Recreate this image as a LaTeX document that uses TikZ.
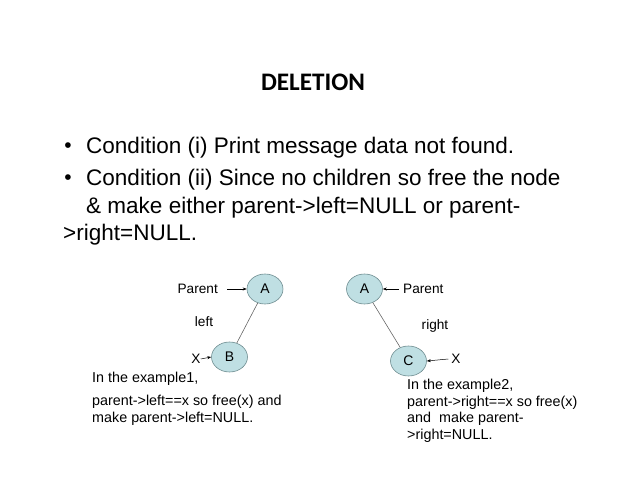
\documentclass[tikz,border=0pt]{standalone}
\usepackage{fontspec}
\setmainfont{Liberation Sans}
\newfontfamily\titlefont{Carlito}
\usepackage{xcolor}
\usetikzlibrary{arrows.meta,shapes.geometric}
\definecolor{nodefill}{HTML}{BFDFE3}
\definecolor{nodeline}{HTML}{6E8C90}

\begin{document}
\begin{tikzpicture}[x=1bp, y=-1bp, text=black,
	tree/.style={ellipse, draw=nodeline, fill=nodefill, line width=0.6pt, minimum width=36bp, minimum height=30bp, inner sep=0pt, font=\fontsize{14}{16}\selectfont},
	lbl/.style={font=\fontsize{13.7}{16}\selectfont, inner sep=0pt},
	note/.style={font=\fontsize{14.4}{16.6}\selectfont, inner sep=0pt, anchor=north west, align=left},
	big/.style={font=\fontsize{22.6}{26}\selectfont, inner sep=0pt, anchor=west},
	dot/.style={font=\fontsize{21}{24}\selectfont, inner sep=0pt},
	ptr/.style={-{Stealth[length=4pt, width=3pt]}, line width=0.5pt},
	edge/.style={draw=black!60, line width=0.6pt}]
	\useasboundingbox (0,0) rectangle (638,493);
	% heading and text
	\node[font=\titlefont\bfseries\fontsize{25.3}{30}\selectfont, inner sep=0pt] (title) at (313,82) {DELETION};
	\node[dot] (b1) at (68,148) {\textbullet};
	\node[big] (l1) at (86,148) {Condition (i) Print message data not found.};
	\node[dot] (b2) at (68,180) {\textbullet};
	\node[big] (l2) at (86,180) {Condition (ii) Since no children so free the node};
	\node[big] (l3) at (86,208) {\& make either parent->left=NULL or parent-};
	\node[big] (l4) at (63,235) {>right=NULL.};
	% example 1
	\node[tree] (A1) at (265,289) {A};
	\node[tree] (B) at (229.5,357) {B};
	\node[lbl, anchor=east] (par1) at (218,289) {Parent};
	\node[lbl] (left) at (204,322) {left};
	\node[lbl] (x1) at (196,359) {X};
	\draw[edge] (A1) -- (B);
	\draw[ptr] (par1.east) ++(9,0) coordinate (p1) -- (A1.west);
	\draw[ptr] (x1.east) -- (B.west);
	\node[note] (n1) at (92,372) {In the example1,};
	\node[note] (n2) at (92,395) {parent->left==x so free(x) and\\make parent->left=NULL.};
	% example 2
	\node[tree] (A2) at (364.5,289) {A};
	\node[tree] (C) at (408.5,361) {C};
	\node[lbl, anchor=west] (par2) at (403,289) {Parent};
	\node[lbl] (right) at (435,326) {right};
	\node[lbl] (x2) at (456,359) {X};
	\draw[edge] (A2) -- (C);
	\draw[ptr] (par2.west) ++(-4,0) -- (A2.east);
	\draw[ptr] (x2.west) ++(-3,0) -- (C.east);
	\node[note] (n3) at (407,379) {In the example2,\\parent->right==x so free(x)\\and~ make parent-\\>right=NULL.};
\end{tikzpicture}
\end{document}
